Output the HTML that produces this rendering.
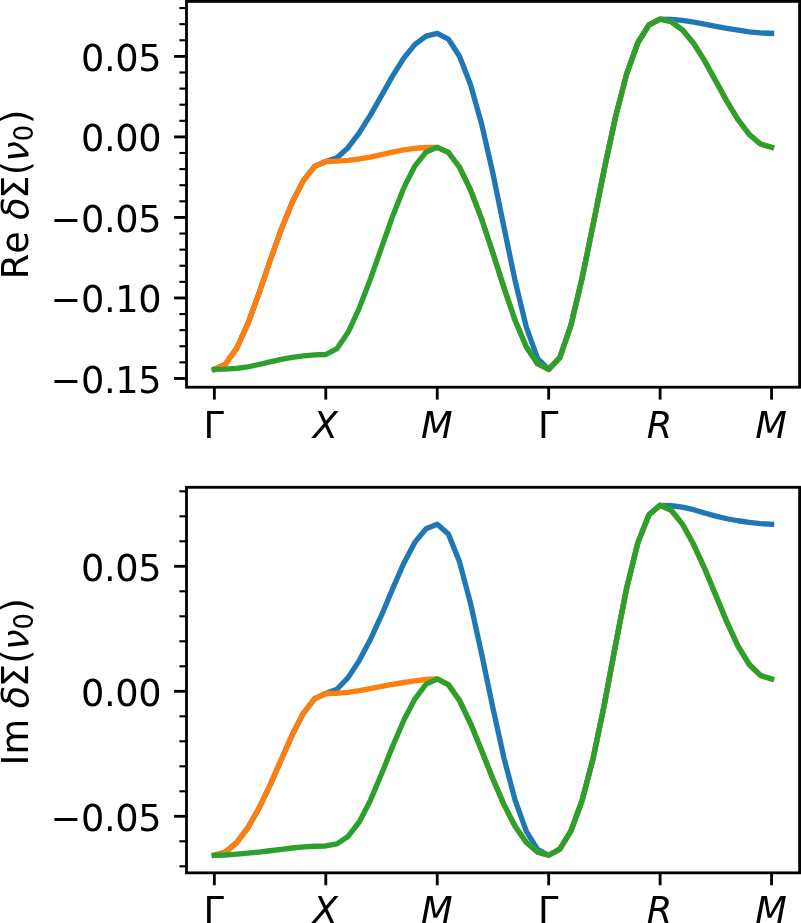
<!DOCTYPE html>
<html><head><meta charset="utf-8"><style>html,body{margin:0;padding:0;background:#fff;}svg{display:block;}</style></head>
<body><svg width="801" height="923" viewBox="0 0 801 923">
<rect width="801" height="923" fill="#fff"/>
<defs>
<clipPath id="ct"><rect x="186.5" y="1.4" width="613.1" height="385.8"/></clipPath>
<clipPath id="cb"><rect x="186.5" y="487.3" width="613.1" height="385.55"/></clipPath>
</defs>
<polyline clip-path="url(#ct)" points="214.35,369.40 225.49,364.04 236.64,348.35 247.78,323.85 258.93,293.40 270.07,260.74 281.21,229.40 292.36,201.99 303.50,180.40 314.65,166.39 325.79,161.50 336.93,157.84 348.08,147.68 359.22,132.86 370.37,115.07 381.51,95.57 392.65,75.86 403.80,58.07 414.94,44.41 426.09,36.13 437.23,33.40 448.37,39.07 459.52,56.20 470.66,84.94 481.81,124.76 492.95,173.69 504.09,227.86 515.24,281.43 526.38,327.30 537.53,358.39 548.67,369.40 559.81,357.63 570.96,325.04 582.10,278.15 593.25,224.04 604.39,168.60 615.53,116.92 626.68,73.81 637.82,42.77 648.97,24.84 660.11,19.10 671.25,19.41 682.40,20.40 693.54,22.04 704.69,24.14 715.83,26.35 726.97,28.38 738.12,30.20 749.26,31.79 760.41,32.96 771.55,33.40" fill="none" stroke="#1f77b4" stroke-width="5.33" stroke-linejoin="round" stroke-linecap="square"/>
<polyline clip-path="url(#ct)" points="214.35,369.40 225.49,364.04 236.64,348.35 247.78,323.85 258.93,293.40 270.07,260.74 281.21,229.40 292.36,201.99 303.50,180.40 314.65,166.39 325.79,161.50 336.93,161.21 348.08,160.37 359.22,158.99 370.37,157.08 381.51,154.69 392.65,152.14 403.80,149.90 414.94,148.34 426.09,147.53 437.23,147.30 448.37,152.44 459.52,167.24 470.66,190.19 481.81,219.50 492.95,253.13 504.09,288.17 515.24,320.77 526.38,346.95 537.53,363.68 548.67,369.40 559.81,357.63 570.96,325.04 582.10,278.15 593.25,224.04 604.39,168.60 615.53,116.92 626.68,73.81 637.82,42.77 648.97,24.84 660.11,19.10 671.25,21.76 682.40,29.83 693.54,43.20 704.69,60.92 715.83,81.09 726.97,101.41 738.12,119.76 749.26,134.43 760.41,143.97 771.55,147.30" fill="none" stroke="#ff7f0e" stroke-width="5.33" stroke-linejoin="round" stroke-linecap="square"/>
<polyline clip-path="url(#ct)" points="214.35,369.40 225.49,369.20 236.64,368.44 247.78,366.85 258.93,364.50 270.07,361.86 281.21,359.45 292.36,357.48 303.50,355.95 314.65,354.89 325.79,354.50 336.93,348.69 348.08,332.37 359.22,308.25 370.37,279.17 381.51,247.64 392.65,216.20 403.80,187.91 414.94,165.80 426.09,151.97 437.23,147.30 448.37,152.44 459.52,167.24 470.66,190.19 481.81,219.50 492.95,253.13 504.09,288.17 515.24,320.77 526.38,346.95 537.53,363.68 548.67,369.40 559.81,357.63 570.96,325.04 582.10,278.15 593.25,224.04 604.39,168.60 615.53,116.92 626.68,73.81 637.82,42.77 648.97,24.84 660.11,19.10 671.25,21.76 682.40,29.83 693.54,43.20 704.69,60.92 715.83,81.09 726.97,101.41 738.12,119.76 749.26,134.43 760.41,143.97 771.55,147.30" fill="none" stroke="#2ca02c" stroke-width="5.33" stroke-linejoin="round" stroke-linecap="square"/>
<line x1="179.40" y1="362.37" x2="186.5" y2="362.37" stroke="#000" stroke-width="2.13"/>
<line x1="179.40" y1="346.26" x2="186.5" y2="346.26" stroke="#000" stroke-width="2.13"/>
<line x1="179.40" y1="330.16" x2="186.5" y2="330.16" stroke="#000" stroke-width="2.13"/>
<line x1="179.40" y1="314.06" x2="186.5" y2="314.06" stroke="#000" stroke-width="2.13"/>
<line x1="179.40" y1="281.85" x2="186.5" y2="281.85" stroke="#000" stroke-width="2.13"/>
<line x1="179.40" y1="265.74" x2="186.5" y2="265.74" stroke="#000" stroke-width="2.13"/>
<line x1="179.40" y1="249.64" x2="186.5" y2="249.64" stroke="#000" stroke-width="2.13"/>
<line x1="179.40" y1="233.53" x2="186.5" y2="233.53" stroke="#000" stroke-width="2.13"/>
<line x1="179.40" y1="201.32" x2="186.5" y2="201.32" stroke="#000" stroke-width="2.13"/>
<line x1="179.40" y1="185.22" x2="186.5" y2="185.22" stroke="#000" stroke-width="2.13"/>
<line x1="179.40" y1="169.11" x2="186.5" y2="169.11" stroke="#000" stroke-width="2.13"/>
<line x1="179.40" y1="153.00" x2="186.5" y2="153.00" stroke="#000" stroke-width="2.13"/>
<line x1="179.40" y1="120.80" x2="186.5" y2="120.80" stroke="#000" stroke-width="2.13"/>
<line x1="179.40" y1="104.69" x2="186.5" y2="104.69" stroke="#000" stroke-width="2.13"/>
<line x1="179.40" y1="88.59" x2="186.5" y2="88.59" stroke="#000" stroke-width="2.13"/>
<line x1="179.40" y1="72.48" x2="186.5" y2="72.48" stroke="#000" stroke-width="2.13"/>
<line x1="179.40" y1="40.27" x2="186.5" y2="40.27" stroke="#000" stroke-width="2.13"/>
<line x1="179.40" y1="24.16" x2="186.5" y2="24.16" stroke="#000" stroke-width="2.13"/>
<line x1="179.40" y1="8.06" x2="186.5" y2="8.06" stroke="#000" stroke-width="2.13"/>
<line x1="174.10" y1="56.38" x2="186.5" y2="56.38" stroke="#000" stroke-width="2.84"/>
<line x1="174.10" y1="136.90" x2="186.5" y2="136.90" stroke="#000" stroke-width="2.84"/>
<line x1="174.10" y1="217.43" x2="186.5" y2="217.43" stroke="#000" stroke-width="2.84"/>
<line x1="174.10" y1="297.95" x2="186.5" y2="297.95" stroke="#000" stroke-width="2.84"/>
<line x1="174.10" y1="378.48" x2="186.5" y2="378.48" stroke="#000" stroke-width="2.84"/>
<line x1="214.35" y1="387.2" x2="214.35" y2="399.60" stroke="#000" stroke-width="2.84"/>
<line x1="325.79" y1="387.2" x2="325.79" y2="399.60" stroke="#000" stroke-width="2.84"/>
<line x1="437.23" y1="387.2" x2="437.23" y2="399.60" stroke="#000" stroke-width="2.84"/>
<line x1="548.67" y1="387.2" x2="548.67" y2="399.60" stroke="#000" stroke-width="2.84"/>
<line x1="660.11" y1="387.2" x2="660.11" y2="399.60" stroke="#000" stroke-width="2.84"/>
<line x1="771.55" y1="387.2" x2="771.55" y2="399.60" stroke="#000" stroke-width="2.84"/>
<rect x="186.5" y="1.4" width="613.10" height="385.80" fill="none" stroke="#000" stroke-width="2.8"/>
<polyline clip-path="url(#cb)" points="214.35,855.29 225.49,852.05 236.64,842.65 247.78,827.84 258.93,808.40 270.07,785.19 281.21,759.73 292.36,734.57 303.50,713.09 314.65,698.62 325.79,693.49 336.93,689.27 348.08,677.62 359.22,660.59 370.37,639.58 381.51,615.22 392.65,588.76 403.80,563.14 414.94,542.16 426.09,528.76 437.23,524.17 448.37,533.96 459.52,561.84 470.66,603.89 481.81,654.68 492.95,708.22 504.09,758.58 515.24,800.70 526.38,831.31 537.53,849.40 548.67,855.29 559.81,849.16 570.96,830.89 582.10,800.50 593.25,757.83 604.39,704.25 615.53,644.80 626.68,588.07 637.82,542.87 648.97,514.71 660.11,505.30 671.25,505.74 682.40,507.19 693.54,509.72 704.69,512.97 715.83,516.16 726.97,518.75 738.12,520.75 749.26,522.42 760.41,523.70 771.55,524.20" fill="none" stroke="#1f77b4" stroke-width="5.33" stroke-linejoin="round" stroke-linecap="square"/>
<polyline clip-path="url(#cb)" points="214.35,855.29 225.49,852.05 236.64,842.65 247.78,827.84 258.93,808.40 270.07,785.19 281.21,759.73 292.36,734.57 303.50,713.09 314.65,698.62 325.79,693.52 336.93,693.23 348.08,692.31 359.22,690.69 370.37,688.57 381.51,686.36 392.65,684.33 403.80,682.50 414.94,680.82 426.09,679.51 437.23,678.99 448.37,684.64 459.52,700.52 470.66,723.83 481.81,751.10 492.95,779.04 504.09,804.90 515.24,826.51 526.38,842.47 537.53,852.10 548.67,855.29 559.81,849.16 570.96,830.89 582.10,800.50 593.25,757.83 604.39,704.25 615.53,644.80 626.68,588.07 637.82,542.87 648.97,514.71 660.11,505.30 671.25,510.27 682.40,524.08 693.54,544.31 704.69,568.67 715.83,595.37 726.97,622.24 738.12,646.26 749.26,664.50 760.41,675.43 771.55,679.00" fill="none" stroke="#ff7f0e" stroke-width="5.33" stroke-linejoin="round" stroke-linecap="square"/>
<polyline clip-path="url(#cb)" points="214.35,855.29 225.49,854.99 236.64,854.20 247.78,853.16 258.93,852.03 270.07,850.77 281.21,849.38 292.36,848.00 303.50,846.90 314.65,846.22 325.79,845.99 336.93,843.86 348.08,836.44 359.22,822.00 370.37,800.41 381.51,773.98 392.65,746.23 403.80,720.31 414.94,698.77 426.09,684.21 437.23,678.99 448.37,684.64 459.52,700.52 470.66,723.83 481.81,751.10 492.95,779.04 504.09,804.90 515.24,826.51 526.38,842.47 537.53,852.10 548.67,855.29 559.81,849.16 570.96,830.89 582.10,800.50 593.25,757.83 604.39,704.25 615.53,644.80 626.68,588.07 637.82,542.87 648.97,514.71 660.11,505.30 671.25,510.27 682.40,524.08 693.54,544.31 704.69,568.67 715.83,595.37 726.97,622.24 738.12,646.26 749.26,664.50 760.41,675.43 771.55,679.00" fill="none" stroke="#2ca02c" stroke-width="5.33" stroke-linejoin="round" stroke-linecap="square"/>
<line x1="179.40" y1="866.30" x2="186.5" y2="866.30" stroke="#000" stroke-width="2.13"/>
<line x1="179.40" y1="841.30" x2="186.5" y2="841.30" stroke="#000" stroke-width="2.13"/>
<line x1="179.40" y1="791.30" x2="186.5" y2="791.30" stroke="#000" stroke-width="2.13"/>
<line x1="179.40" y1="766.30" x2="186.5" y2="766.30" stroke="#000" stroke-width="2.13"/>
<line x1="179.40" y1="741.30" x2="186.5" y2="741.30" stroke="#000" stroke-width="2.13"/>
<line x1="179.40" y1="716.30" x2="186.5" y2="716.30" stroke="#000" stroke-width="2.13"/>
<line x1="179.40" y1="666.30" x2="186.5" y2="666.30" stroke="#000" stroke-width="2.13"/>
<line x1="179.40" y1="641.30" x2="186.5" y2="641.30" stroke="#000" stroke-width="2.13"/>
<line x1="179.40" y1="616.30" x2="186.5" y2="616.30" stroke="#000" stroke-width="2.13"/>
<line x1="179.40" y1="591.30" x2="186.5" y2="591.30" stroke="#000" stroke-width="2.13"/>
<line x1="179.40" y1="541.30" x2="186.5" y2="541.30" stroke="#000" stroke-width="2.13"/>
<line x1="179.40" y1="516.30" x2="186.5" y2="516.30" stroke="#000" stroke-width="2.13"/>
<line x1="179.40" y1="491.30" x2="186.5" y2="491.30" stroke="#000" stroke-width="2.13"/>
<line x1="174.10" y1="566.30" x2="186.5" y2="566.30" stroke="#000" stroke-width="2.84"/>
<line x1="174.10" y1="691.30" x2="186.5" y2="691.30" stroke="#000" stroke-width="2.84"/>
<line x1="174.10" y1="816.30" x2="186.5" y2="816.30" stroke="#000" stroke-width="2.84"/>
<line x1="214.35" y1="872.85" x2="214.35" y2="885.25" stroke="#000" stroke-width="2.84"/>
<line x1="325.79" y1="872.85" x2="325.79" y2="885.25" stroke="#000" stroke-width="2.84"/>
<line x1="437.23" y1="872.85" x2="437.23" y2="885.25" stroke="#000" stroke-width="2.84"/>
<line x1="548.67" y1="872.85" x2="548.67" y2="885.25" stroke="#000" stroke-width="2.84"/>
<line x1="660.11" y1="872.85" x2="660.11" y2="885.25" stroke="#000" stroke-width="2.84"/>
<line x1="771.55" y1="872.85" x2="771.55" y2="885.25" stroke="#000" stroke-width="2.84"/>
<rect x="186.5" y="487.3" width="613.10" height="385.55" fill="none" stroke="#000" stroke-width="2.8"/>
<text x="161.2" y="70.78" text-anchor="end" letter-spacing="-0.35" font-family="'DejaVu Sans', 'Liberation Sans', sans-serif" font-size="36.7">0.05</text>
<text x="161.2" y="151.30" text-anchor="end" letter-spacing="-0.35" font-family="'DejaVu Sans', 'Liberation Sans', sans-serif" font-size="36.7">0.00</text>
<text x="161.2" y="231.83" text-anchor="end" letter-spacing="-0.35" font-family="'DejaVu Sans', 'Liberation Sans', sans-serif" font-size="36.7">−0.05</text>
<text x="161.2" y="312.35" text-anchor="end" letter-spacing="-0.35" font-family="'DejaVu Sans', 'Liberation Sans', sans-serif" font-size="36.7">−0.10</text>
<text x="161.2" y="392.88" text-anchor="end" letter-spacing="-0.35" font-family="'DejaVu Sans', 'Liberation Sans', sans-serif" font-size="36.7">−0.15</text>
<text x="161.2" y="580.70" text-anchor="end" letter-spacing="-0.35" font-family="'DejaVu Sans', 'Liberation Sans', sans-serif" font-size="36.7">0.05</text>
<text x="161.2" y="705.70" text-anchor="end" letter-spacing="-0.35" font-family="'DejaVu Sans', 'Liberation Sans', sans-serif" font-size="36.7">0.00</text>
<text x="161.2" y="830.70" text-anchor="end" letter-spacing="-0.35" font-family="'DejaVu Sans', 'Liberation Sans', sans-serif" font-size="36.7">−0.05</text>
<text x="213.85" y="437.50" text-anchor="middle" font-family="'DejaVu Sans', 'Liberation Sans', sans-serif" font-size="36.7">Γ</text>
<text x="325.29" y="437.50" text-anchor="middle" font-family="'DejaVu Sans', 'Liberation Sans', sans-serif" font-size="36.7" font-style="italic">X</text>
<text x="436.73" y="437.50" text-anchor="middle" font-family="'DejaVu Sans', 'Liberation Sans', sans-serif" font-size="36.7" font-style="italic">M</text>
<text x="548.17" y="437.50" text-anchor="middle" font-family="'DejaVu Sans', 'Liberation Sans', sans-serif" font-size="36.7">Γ</text>
<text x="659.61" y="437.50" text-anchor="middle" font-family="'DejaVu Sans', 'Liberation Sans', sans-serif" font-size="36.7" font-style="italic">R</text>
<text x="771.05" y="437.50" text-anchor="middle" font-family="'DejaVu Sans', 'Liberation Sans', sans-serif" font-size="36.7" font-style="italic">M</text>
<text x="213.85" y="923.15" text-anchor="middle" font-family="'DejaVu Sans', 'Liberation Sans', sans-serif" font-size="36.7">Γ</text>
<text x="325.29" y="923.15" text-anchor="middle" font-family="'DejaVu Sans', 'Liberation Sans', sans-serif" font-size="36.7" font-style="italic">X</text>
<text x="436.73" y="923.15" text-anchor="middle" font-family="'DejaVu Sans', 'Liberation Sans', sans-serif" font-size="36.7" font-style="italic">M</text>
<text x="548.17" y="923.15" text-anchor="middle" font-family="'DejaVu Sans', 'Liberation Sans', sans-serif" font-size="36.7">Γ</text>
<text x="659.61" y="923.15" text-anchor="middle" font-family="'DejaVu Sans', 'Liberation Sans', sans-serif" font-size="36.7" font-style="italic">R</text>
<text x="771.05" y="923.15" text-anchor="middle" font-family="'DejaVu Sans', 'Liberation Sans', sans-serif" font-size="36.7" font-style="italic">M</text>
<text transform="translate(27.7,0) rotate(-90)" font-family="'DejaVu Sans', 'Liberation Sans', sans-serif" font-size="36.7"><tspan x="-279.30" y="0">R</tspan><tspan x="-253.80" y="0">e </tspan><tspan x="-219.80" y="0" font-style="italic">δ</tspan><tspan x="-198.70" y="0">Σ</tspan><tspan x="-175.30" y="0">(</tspan><tspan x="-161.65" y="0" font-style="italic">ν</tspan><tspan x="-141.20" y="5.7" font-size="25.69">0</tspan><tspan x="-124.05" y="0">)</tspan></text>
<text transform="translate(27.7,0) rotate(-90)" font-family="'DejaVu Sans', 'Liberation Sans', sans-serif" font-size="36.7"><tspan x="-765.40" y="0">I</tspan><tspan x="-754.60" y="0">m </tspan><tspan x="-708.20" y="0" font-style="italic">δ</tspan><tspan x="-687.10" y="0">Σ</tspan><tspan x="-663.70" y="0">(</tspan><tspan x="-650.05" y="0" font-style="italic">ν</tspan><tspan x="-629.60" y="5.7" font-size="25.69">0</tspan><tspan x="-612.45" y="0">)</tspan></text>
</svg></body></html>
